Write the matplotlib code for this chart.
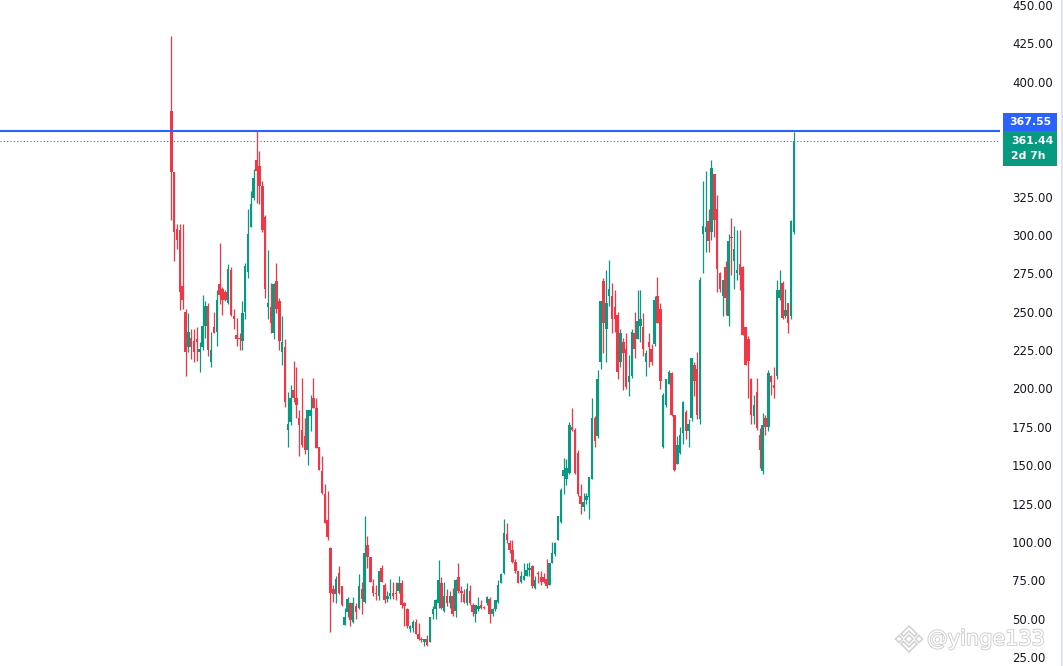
import matplotlib
matplotlib.use("Agg")
import matplotlib.pyplot as plt
import matplotlib.patheffects as pe
from matplotlib.patches import Polygon, Rectangle
from matplotlib.lines import Line2D
import numpy as np

# daily candles
opens = [381, 341, 304, 303, 267, 250, 227, 233, 231, 232,
         224, 227, 241, 254, 217, 240, 237, 268, 265, 263,
         256, 277, 247, 235, 233, 231, 250, 276, 305, 324,
         349, 345, 332, 312, 253, 253, 236, 270, 257, 224,
         227, 173, 178, 199, 194, 181, 173, 169, 160, 182,
         194, 187, 162, 146, 131, 114, 96, 69, 66, 80,
         71, 46, 54, 60, 48, 58, 57, 69, 61, 98,
         90, 71, 67, 65, 83, 72, 63, 65, 67, 67,
         68, 73, 60, 56, 43, 44, 48, 40, 37, 35,
         37, 35, 53, 56, 60, 73, 55, 65, 60, 65,
         55, 77, 68, 66, 60, 68, 59, 53, 56, 59,
         57, 60, 63, 53, 56, 61, 73, 80, 105, 99,
         95, 87, 81, 74, 75, 78, 82, 84, 70, 80,
         77, 77, 76, 72, 86, 92, 101, 113, 143, 141,
         145, 175, 173, 158, 130, 123, 127, 129, 141, 181,
         169, 217, 270, 239, 260, 260, 253, 248, 217, 230,
         226, 204, 208, 236, 232, 241, 240, 217, 230, 226,
         229, 260, 252, 162, 189, 203, 210, 183, 151, 158,
         171, 185, 172, 181, 215, 213, 180, 301, 302, 309,
         302, 340, 317, 275, 260, 279, 247, 299, 283, 275,
         281, 279, 240, 232, 206, 182, 198, 170, 146, 181,
         175, 208, 202, 208, 259, 269, 247, 256, 247, 302]
highs = [430, 341, 307, 307, 307, 252, 249, 239, 239, 240,
         230, 261, 257, 256, 237, 250, 264, 295, 266, 264,
         281, 279, 252, 246, 236, 257, 282, 317, 329, 343,
         368, 355, 335, 313, 290, 269, 269, 282, 259, 247,
         232, 198, 202, 218, 214, 186, 207, 181, 186, 196,
         207, 194, 162, 156, 138, 133, 97, 72, 78, 84,
         71, 57, 64, 61, 64, 60, 79, 74, 117, 104,
         90, 76, 72, 81, 85, 73, 68, 76, 74, 74,
         78, 75, 61, 57, 46, 49, 50, 47, 38, 37,
         39, 51, 58, 63, 88, 77, 74, 69, 68, 70,
         76, 86, 71, 69, 73, 72, 60, 59, 64, 62,
         58, 65, 64, 57, 62, 75, 80, 115, 112, 101,
         101, 89, 81, 81, 86, 86, 87, 85, 78, 81,
         81, 80, 89, 86, 100, 100, 117, 135, 155, 154,
         178, 187, 174, 160, 138, 132, 132, 142, 194, 182,
         212, 257, 272, 277, 284, 269, 264, 250, 239, 233,
         236, 222, 239, 250, 264, 264, 249, 225, 236, 229,
         260, 273, 256, 197, 206, 212, 211, 183, 169, 175,
         192, 186, 180, 220, 217, 224, 273, 335, 342, 317,
         349, 340, 326, 276, 271, 283, 301, 311, 306, 303,
         303, 280, 240, 234, 207, 196, 207, 174, 184, 183,
         212, 209, 214, 271, 277, 270, 265, 256, 310, 367.5]
lows = [310, 283, 291, 251, 252, 208, 224, 219, 217, 218,
        211, 225, 233, 221, 214, 236, 228, 255, 248, 257,
        255, 247, 239, 228, 225, 225, 245, 272, 305, 323,
        321, 320, 302, 259, 245, 236, 232, 249, 225, 215,
        188, 162, 176, 191, 181, 156, 162, 157, 150, 172,
        187, 161, 147, 131, 112, 101, 41, 61, 60, 66,
        58, 46, 51, 45, 47, 50, 56, 53, 60, 83,
        74, 65, 62, 62, 74, 60, 61, 63, 63, 62,
        67, 57, 45, 44, 41, 41, 40, 36, 35, 32,
        32, 35, 50, 50, 57, 56, 54, 58, 57, 52,
        51, 67, 61, 60, 59, 59, 52, 48, 55, 56,
        56, 59, 47, 52, 55, 60, 73, 79, 99, 93,
        86, 80, 73, 73, 75, 78, 78, 70, 69, 73,
        72, 73, 70, 72, 86, 91, 101, 112, 131, 137,
        144, 172, 144, 130, 118, 120, 125, 115, 141, 162,
        168, 213, 223, 217, 254, 236, 237, 206, 214, 199,
        200, 195, 207, 220, 232, 230, 221, 208, 214, 215,
        228, 243, 200, 161, 188, 203, 182, 146, 151, 157,
        164, 167, 162, 179, 195, 180, 177, 275, 289, 289,
        297, 299, 263, 263, 247, 248, 241, 274, 265, 271,
        264, 235, 215, 194, 177, 177, 173, 148, 144, 170,
        172, 196, 194, 206, 258, 245, 246, 236, 245, 301]
closes = [341, 302, 297, 263, 258, 224, 237, 227, 224, 230,
          226, 241, 254, 225, 225, 236, 258, 261, 258, 258,
          278, 248, 245, 232, 232, 249, 280, 301, 320, 337,
          342, 332, 303, 265, 256, 243, 268, 252, 231, 230,
          191, 177, 194, 194, 189, 176, 163, 160, 186, 186,
          187, 161, 147, 132, 112, 103, 67, 66, 76, 67,
          59, 51, 63, 49, 60, 54, 71, 63, 93, 90,
          74, 67, 66, 81, 74, 62, 65, 67, 65, 66,
          73, 59, 58, 45, 45, 48, 40, 37, 36, 37,
          33, 51, 56, 62, 75, 57, 65, 60, 65, 53,
          75, 68, 67, 61, 69, 60, 54, 59, 58, 57,
          57, 64, 53, 56, 62, 72, 79, 106, 101, 95,
          87, 81, 73, 78, 78, 82, 83, 71, 75, 79,
          74, 74, 71, 86, 93, 99, 117, 134, 147, 148,
          176, 173, 145, 131, 125, 126, 130, 142, 181, 166,
          206, 257, 243, 256, 265, 245, 245, 211, 236, 223,
          201, 208, 237, 226, 244, 245, 226, 223, 227, 217,
          258, 243, 205, 196, 206, 211, 183, 147, 163, 170,
          191, 172, 177, 220, 205, 183, 271, 306, 305, 296,
          344, 310, 278, 265, 271, 259, 296, 298, 291, 277,
          274, 235, 215, 218, 183, 189, 174, 160, 176, 175,
          210, 204, 200, 264, 264, 246, 251, 243, 309, 361.44]

level_price = 367.55
countdown = "2d 7h"
# 350 and 375 are hidden behind the price labels on the axis
tick_values = [25, 50, 75, 100, 125, 150, 175, 200, 225, 250,
               275, 300, 325, 400, 425, 450]
watermark = "@yinge133"

UP = "#089981"
DOWN = "#F23645"
BLUE = "#2962FF"

W, H = 1063, 666
fig = plt.figure(figsize=(W / 100, H / 100), dpi=100)
fig.patch.set_facecolor("white")
ax = fig.add_axes([0, 0, 1000 / W, 1])

o = np.array(opens, dtype=float)
h = np.array(highs, dtype=float)
l = np.array(lows, dtype=float)
c = np.array(closes, dtype=float)
x = np.arange(len(c))
colors = np.where(c > o, UP, DOWN)

ax.vlines(x, l, h, colors=colors, linewidth=0.9)
ax.bar(x, np.maximum(np.abs(c - o), 0.7), bottom=np.minimum(o, c),
       width=0.88, color=colors, linewidth=0)

ax.axhline(level_price, color=BLUE, lw=1.5)
ax.axhline(c[-1], color=UP, lw=0.8, ls=(0, (1, 2)))

ax.set_xlim(-60.25, 291.5)
ax.set_ylim(19.1, 453.26)
for s in ax.spines.values():
    s.set_visible(False)
ax.set_xticks([])
ax.yaxis.tick_right()
ax.set_yticks(tick_values)
ax.set_yticklabels([f"{v:.2f}" for v in tick_values])
ax.tick_params(axis="y", length=0, pad=8.6, labelsize=8.5, labelcolor="#131722")

# price labels on the axis
close_px = ax.transData.transform((0, c[-1]))[1]
g_bot, g_top = close_px - 25, close_px + 9.5
b_top = g_top + 18.5
fig.add_artist(Rectangle((1003 / W, g_bot / H), 54 / W, (g_top - g_bot) / H,
                         transform=fig.transFigure, color=UP, lw=0))
fig.add_artist(Rectangle((1003 / W, g_top / H), 54 / W, (b_top - g_top) / H,
                         transform=fig.transFigure, color=BLUE, lw=0))
fig.text(1030 / W, (g_top + b_top) / 2 / H, f"{level_price:.2f}", color="white",
         fontsize=7.8, fontweight="bold", ha="center", va="center")
fig.text(1011 / W, close_px / H, f"{c[-1]:.2f}", color="white",
         fontsize=7.8, fontweight="bold", ha="left", va="center")
fig.text(1011 / W, (close_px - 15.5) / H, countdown, color="white",
         fontsize=7.8, fontweight="bold", ha="left", va="center")

fig.add_artist(Line2D([1061.5 / W] * 2, [0, 1], transform=fig.transFigure,
                      color="#e0e3eb", lw=1.5))

# watermark
wm_y = 666 - 639
fig.text(927 / W, wm_y / H, watermark, fontsize=15, color="white",
         ha="left", va="center", zorder=5,
         path_effects=[pe.withStroke(linewidth=1.4, foreground="#d0d0d0")])


def logo_part(pts, cx=909, cy=wm_y):
    xy = [((cx + px) / W, (cy + py) / H) for px, py in pts]
    fig.add_artist(Polygon(xy, closed=True, transform=fig.transFigure,
                           facecolor="white", edgecolor="#d0d0d0", lw=1.1, zorder=5))


logo_part([(0, 4), (4, 0), (0, -4), (-4, 0)])
logo_part([(-10, 3.5), (-6.5, 0), (-10, -3.5), (-13.5, 0)])
logo_part([(10, 3.5), (13.5, 0), (10, -3.5), (6.5, 0)])
logo_part([(-8, 5), (0, 13), (8, 5), (5.5, 2.5), (0, 8), (-5.5, 2.5)])
logo_part([(-8, -5), (0, -13), (8, -5), (5.5, -2.5), (0, -8), (-5.5, -2.5)])

fig.savefig("out.png", dpi=100)
